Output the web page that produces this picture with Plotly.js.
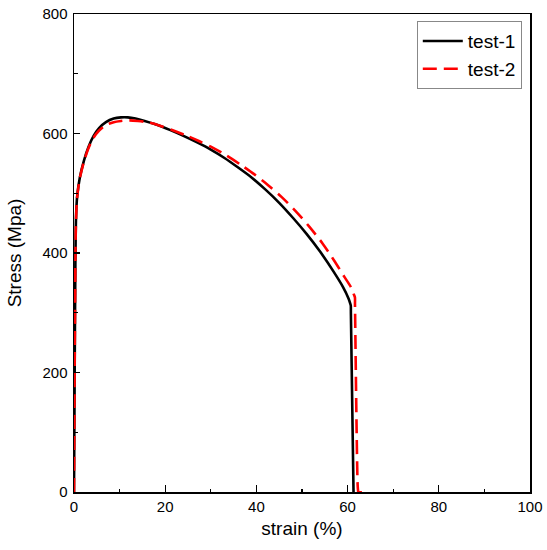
<!DOCTYPE html>
<html>
<head>
<meta charset="utf-8">
<script src="https://cdn.plot.ly/plotly-3.0.1.min.js"></script>
<style>html,body{margin:0;padding:0;background:#fff;}#chart{width:547px;height:550px;}</style>
</head>
<body>
<div id="chart"></div>
<script>
const test1Strain = [0, 0.15, 0.3, 0.45, 0.7, 1.3, 2.2, 3.2, 4.3, 5.5, 7, 8.7, 10.3, 11.8, 13.5, 15.5, 18, 21, 24, 27, 30, 33, 36, 39, 42, 45, 48, 51, 54, 57, 59, 60.2, 60.6, 60.7, 60.72, 61.3];
const test1Stress = [0, 200, 380, 460, 495, 527, 555, 578, 596, 609, 619, 625, 627, 627, 625, 621, 615, 606, 596, 585, 573, 559, 543, 526, 506, 484, 459, 432, 402, 368, 343, 324, 315, 312, 300, 0];
const test2Strain = [0, 0.1, 0.25, 0.4, 0.65, 1.2, 2.1, 3.1, 4.2, 5.5, 7, 8.7, 10.3, 12, 14, 16, 18.5, 21.5, 24.5, 27.5, 30.5, 33.5, 36.5, 39.5, 42.5, 45.5, 48.5, 51.5, 54.5, 57, 59.3, 60.8, 61.4, 61.6, 61.62, 62.2, 62.3, 62.35, 64];
const test2Stress = [0, 150, 330, 440, 490, 522, 551, 574, 592, 605, 614, 619, 621, 622, 621, 619, 614, 606, 597, 587, 576, 563, 548, 532, 514, 494, 471, 445, 416, 388, 360, 342, 330, 326, 314, 12, 2, 0, 0];
const seriesNames = ['test-1', 'test-2'];

const font = 'Arial, "Liberation Sans", sans-serif';
const traces = [
  {x: test1Strain, y: test1Stress, name: seriesNames[0], mode: 'lines', line: {color: '#000000', width: 2.6, shape: 'spline', smoothing: 0.8}},
  {x: test2Strain, y: test2Stress, name: seriesNames[1], mode: 'lines', line: {color: '#ff0000', width: 2.6, dash: '14px,7px', shape: 'spline', smoothing: 0.8}}
];
const axisCommon = {
  showgrid: false, zeroline: false, showline: true, linecolor: '#000', linewidth: 1.5, mirror: true,
  ticks: 'inside', ticklen: 6, tickwidth: 1.3, tickcolor: '#000',
  tickfont: {family: font, size: 15, color: '#000'}
};
const layout = {
  width: 547, height: 550,
  margin: {l: 74, r: 17, t: 14, b: 58},
  paper_bgcolor: '#fff', plot_bgcolor: '#fff',
  showlegend: true,
  legend: {x: 0.982, y: 0.985, xanchor: 'right', yanchor: 'top', bgcolor: '#fff', bordercolor: '#888', borderwidth: 1,
           font: {family: font, size: 19, color: '#000'}, tracegroupgap: 0, itemwidth: 40},
  xaxis: Object.assign({}, axisCommon, {range: [0, 100], dtick: 20, tick0: 0, ticklen: 7,
    minor: {ticks: 'inside', ticklen: 3, dtick: 10, tick0: 0, tickcolor: '#000', tickwidth: 1.3},
    title: {text: 'strain (%)', font: {family: font, size: 19, color: '#000'}, standoff: 8}}),
  yaxis: Object.assign({}, axisCommon, {range: [0, 800], dtick: 200, tick0: 0, ticklabelstandoff: 2,
    minor: {ticks: 'inside', ticklen: 4, dtick: 100, tick0: 0, tickcolor: '#000', tickwidth: 1.3},
    title: {text: 'Stress (Mpa)', font: {family: font, size: 19, color: '#000'}, standoff: 16}}),
  yaxis2: {overlaying: 'y', matches: 'y', side: 'left', range: [0, 800], dtick: 200, tick0: 0,
    showgrid: false, zeroline: false, showline: false, showticklabels: false,
    ticks: 'outside', ticklen: 5, tickwidth: 1.3, tickcolor: '#000'}
};
Plotly.newPlot('chart', traces, layout, {displayModeBar: false, staticPlot: true});
</script>
</body>
</html>
